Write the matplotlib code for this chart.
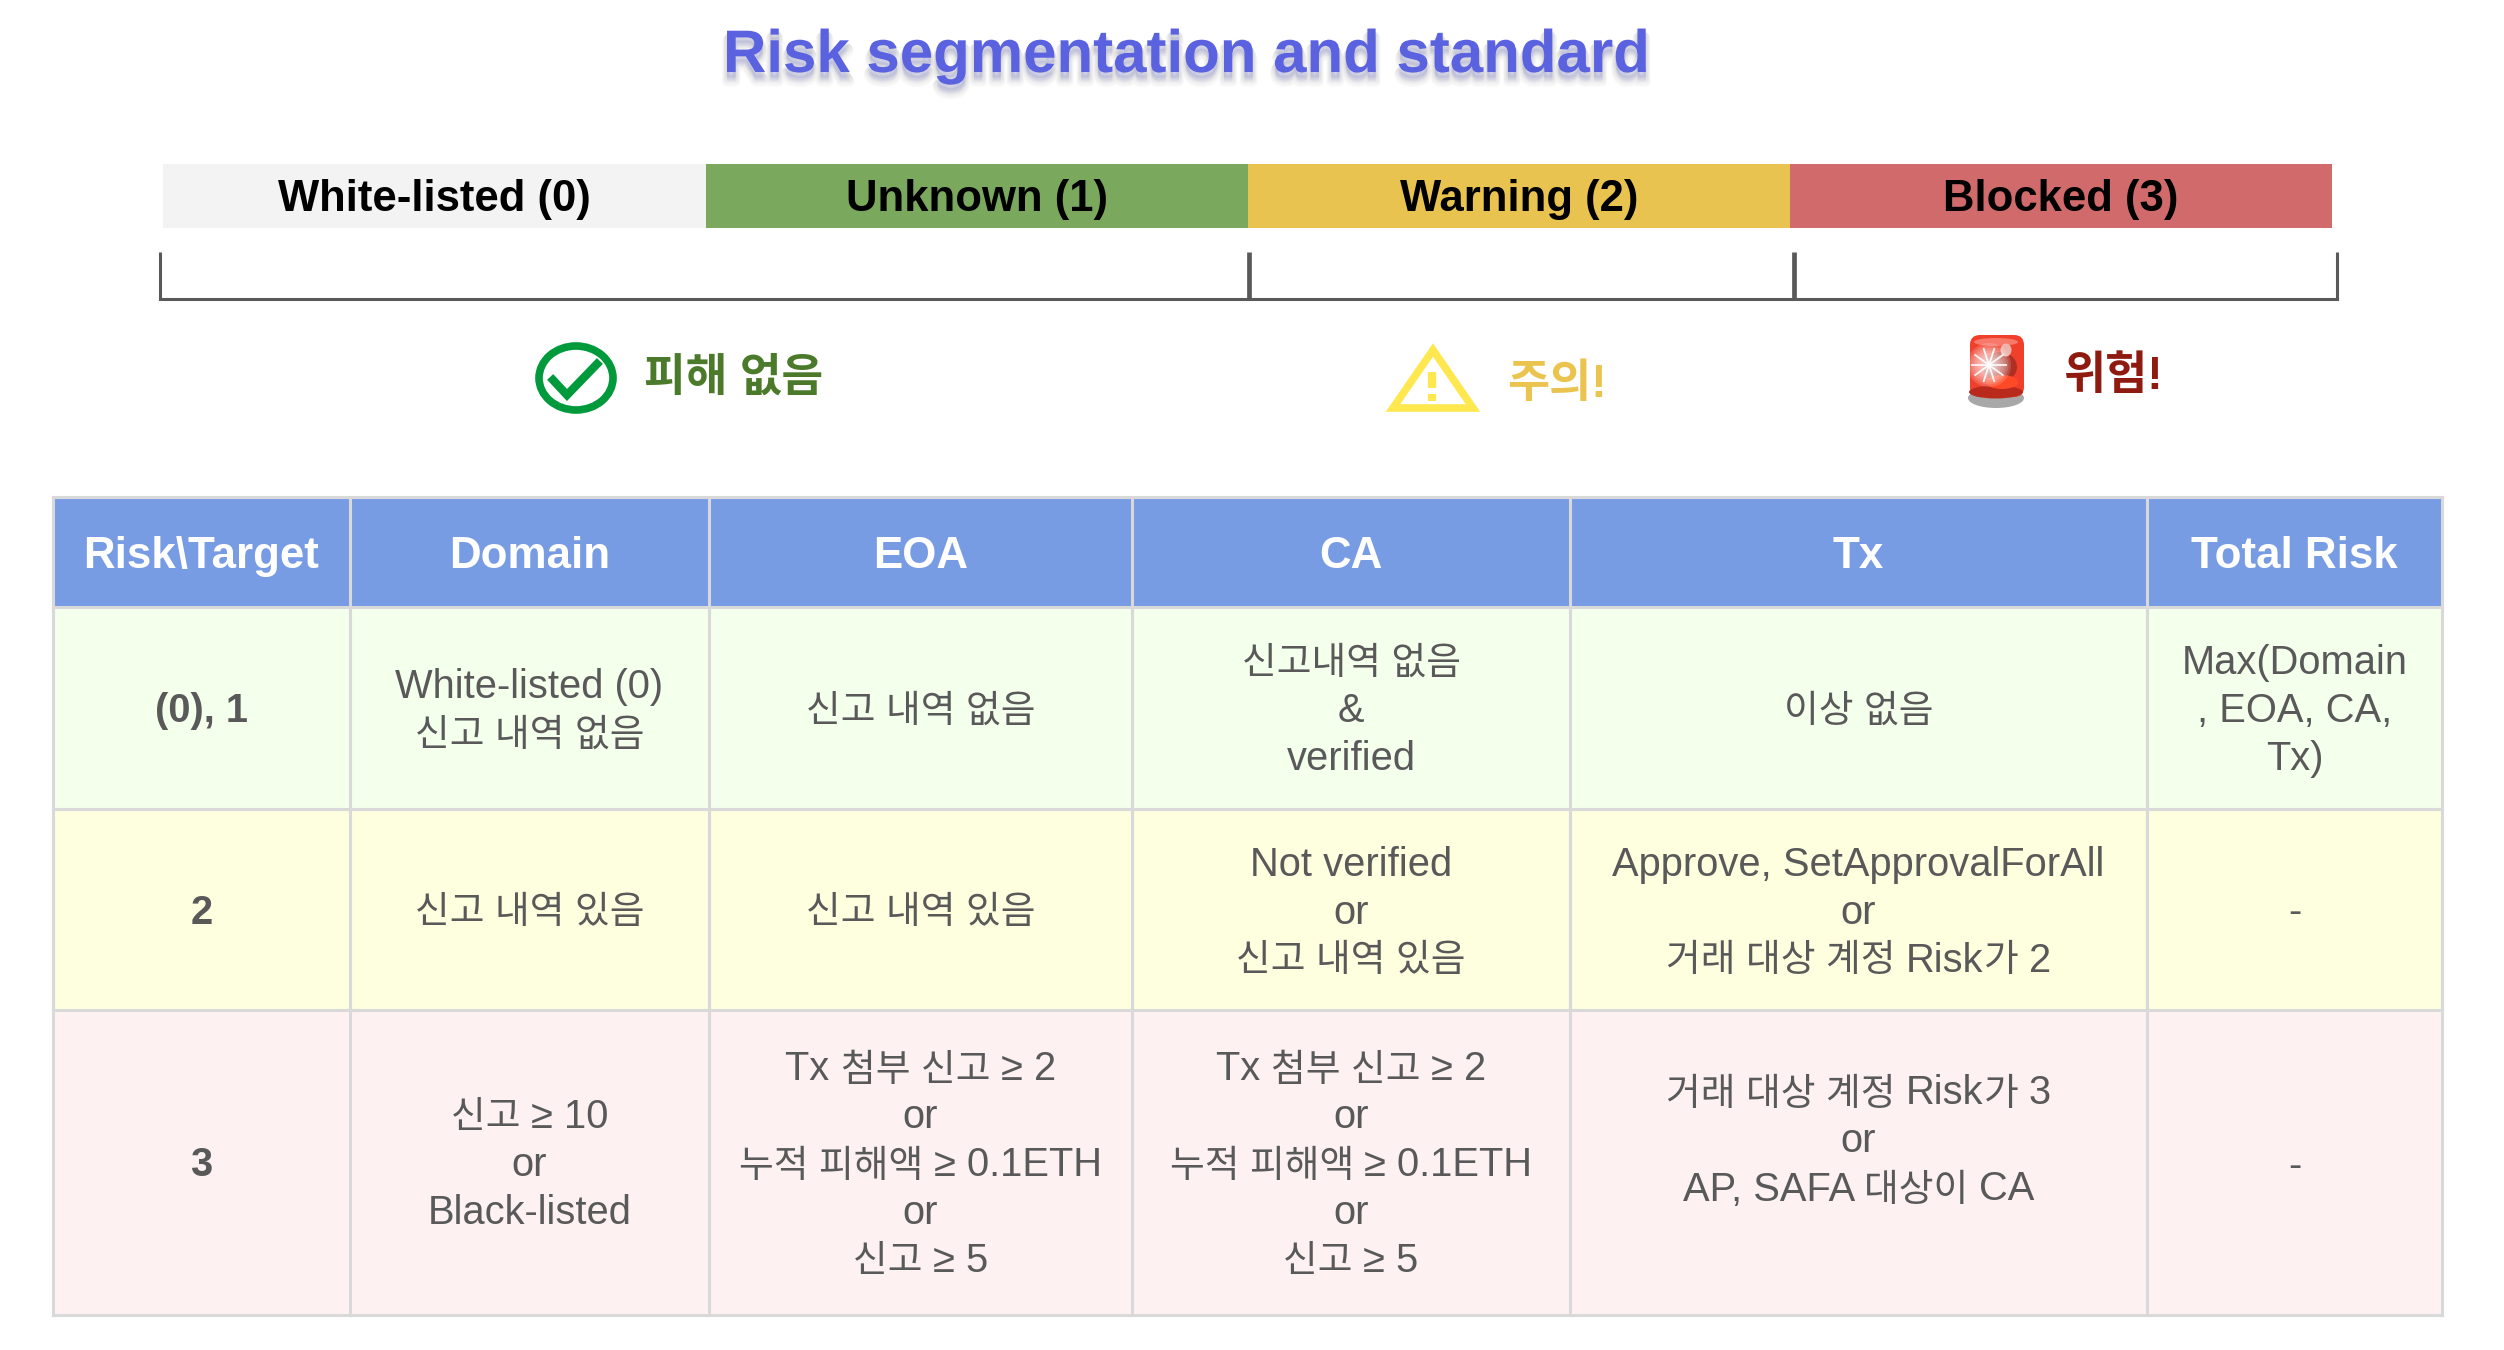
import numpy as np
import matplotlib
matplotlib.use("Agg")
import matplotlib.pyplot as plt
import matplotlib.patheffects as pe
from matplotlib.patches import Rectangle, Ellipse, Polygon, FancyBboxPatch

plt.rcParams["font.family"] = ["Liberation Sans", "Noto Sans CJK KR", "DejaVu Sans"]

# Segments on the top bar
segment_labels = ["White-listed (0)", "Unknown (1)", "Warning (2)", "Blocked (3)"]
segment_colors = ["#f3f3f3", "#7aa85c", "#e9c350", "#d16b6b"]
segment_edges = [163, 706, 1248, 1790, 2332]

# Bracket under the bar
bracket_edges = [160, 1249, 1794, 2337]

# Table content
header_labels = ["Risk\\Target", "Domain", "EOA", "CA", "Tx", "Total Risk"]
row_low = ["(0), 1", "White-listed (0)\n신고 내역 없음", "신고 내역 없음",
           "신고내역 없음\n&\nverified", "이상 없음", "Max(Domain\n, EOA, CA,\nTx)"]
row_mid = ["2", "신고 내역 있음", "신고 내역 있음",
           "Not verified\nor\n신고 내역 있음",
           "Approve, SetApprovalForAll\nor\n거래 대상 계정 Risk가 2", "-"]
row_high = ["3", "신고 ≥ 10\nor\nBlack-listed",
            "Tx 첨부 신고 ≥ 2\nor\n누적 피해액 ≥ 0.1ETH\nor\n신고 ≥ 5",
            "Tx 첨부 신고 ≥ 2\nor\n누적 피해액 ≥ 0.1ETH\nor\n신고 ≥ 5",
            "거래 대상 계정 Risk가 3\nor\nAP, SAFA 대상이 CA\n", "-"]
table_rows = [row_low, row_mid, row_high]
row_colors = ["#f4ffec", "#feffdf", "#fdf1f1"]
header_color = "#789ce4"
grid_color = "#d9d9d9"
text_color = "#595959"

col_edges = [53, 350, 709, 1132, 1570, 2147, 2442]
row_edges = [497, 607, 809, 1010, 1315]
line_step = 48
latin_size = 28.7
hangul_size = 27.2

fig = plt.figure(figsize=(25.04, 13.5), dpi=100)
ax = fig.add_axes([0, 0, 1, 1])
ax.set_xlim(0, 2504)
ax.set_ylim(1350, 0)
ax.axis("off")
renderer = fig.canvas.get_renderer()


def is_hangul(ch):
    return "\uac00" <= ch <= "\ud7a3"


def split_runs(line):
    """Cut a line into Hangul and non-Hangul pieces, spaces stay with what precedes."""
    runs = []
    for ch in line:
        kind = is_hangul(ch) if ch != " " or not runs else runs[-1][0]
        if runs and runs[-1][0] == kind:
            runs[-1][1] += ch
        else:
            runs.append([kind, ch])
    return runs


def text_width(s, size, weight):
    # bars on both sides so that spaces at the ends count too
    t = ax.text(0, 0, "|" + s + "|", fontsize=size, fontweight=weight)
    w = t.get_window_extent(renderer).width
    t.set_text("||")
    w -= t.get_window_extent(renderer).width
    t.remove()
    return w


def draw_line(xc, y, line, weight):
    runs = split_runs(line)
    sizes = [hangul_size if hangul else latin_size for hangul, _ in runs]
    widths = [text_width(s, size, weight) for (_, s), size in zip(runs, sizes)]
    x = xc - sum(widths) / 2
    for (_, s), size, w in zip(runs, sizes, widths):
        ax.text(x, y, s, fontsize=size, fontweight=weight, color=text_color, ha="left", va="baseline")
        x += w


# Title with a soft drop shadow
shadow = [pe.Stroke(linewidth=2 + k * 1.2, foreground="#777777", alpha=0.05, offset=(0, -3 - k))
          for k in range(5)]
ax.text(1187, 72, "Risk segmentation and standard", fontsize=43.2, fontweight="bold",
        color="#5a62e0", ha="center", va="baseline",
        path_effects=shadow + [pe.Normal()])

# Segment bar
for i, label in enumerate(segment_labels):
    left, right = segment_edges[i], segment_edges[i + 1]
    ax.add_patch(Rectangle((left, 164), right - left, 64, facecolor=segment_colors[i], edgecolor="none"))
    ax.text((left + right) / 2, 211, label, fontsize=31.4, fontweight="bold",
            color="black", ha="center", va="baseline")

# Bracket
ax.plot([bracket_edges[0], bracket_edges[-1]], [299, 299], color="#595959", lw=2.2)
for i, x in enumerate(bracket_edges):
    lw = 3.4 if i in (1, 2) else 2.2
    ax.plot([x, x], [252, 299], color="#595959", lw=lw, solid_capstyle="butt")

# Check icon
ax.add_patch(Ellipse((576, 378), 74, 64, facecolor="none", edgecolor="#009a3c", lw=5.5))
ax.plot([553, 567, 597], [380, 395, 364], color="#009a3c", lw=6, solid_joinstyle="miter")
ax.text(644, 391, "피해 없음", fontsize=32.6, fontweight="bold", color="#4a7a2a", ha="left", va="baseline")

# Warning icon
ax.add_patch(Polygon([(1433, 350), (1393, 408), (1473, 408)], closed=True, facecolor="none",
                     edgecolor="#ffe84f", lw=5.5, joinstyle="miter"))
ax.plot([1432, 1432], [372, 388], color="#ffe84f", lw=6, solid_capstyle="butt")
ax.plot([1432, 1432], [394, 401], color="#ffe84f", lw=6, solid_capstyle="butt")
ax.text(1507, 397, "주의!", fontsize=33, fontweight="bold", color="#ebc450", ha="left", va="baseline")

# Siren icon
ax.add_patch(Ellipse((1996, 398), 56, 20, facecolor="#a8a8a8", edgecolor="none", zorder=2))
ax.add_patch(FancyBboxPatch((1976, 341), 42, 50, boxstyle="round,pad=6,rounding_size=10",
                            facecolor="#f0402c", edgecolor="none", zorder=3))
ax.add_patch(Ellipse((1996, 392), 54, 13, facecolor="#b92a1c", edgecolor="none", zorder=4))
ax.add_patch(Ellipse((1996, 342), 44, 8, facecolor="#f8786a", edgecolor="none", zorder=4))
ax.add_patch(Ellipse((2000, 367), 34, 30, facecolor="#9a2a20", edgecolor="none", alpha=0.75, zorder=4))
ax.add_patch(Ellipse((2006, 350), 11, 13, facecolor="#eeb4ac", edgecolor="none", zorder=5))
ax.add_patch(Ellipse((2002, 382), 32, 14, facecolor="#ff4a28", edgecolor="none", zorder=5))
for k in range(8):
    ax.add_patch(Ellipse((1989, 365), 44 - 5 * k, 44 - 5 * k, facecolor="white", edgecolor="none",
                         alpha=0.16, zorder=6))
for angle in np.arange(0, 180, 36):
    dx, dy = 17 * np.cos(np.radians(angle)), 17 * np.sin(np.radians(angle))
    ax.plot([1989 - dx, 1989 + dx], [365 - dy, 365 + dy], color="white", lw=1.3, alpha=0.9, zorder=7)
ax.text(2064, 389, "위험!", fontsize=33, fontweight="bold", color="#8f1a10", ha="left", va="baseline")

# Table fills
top, head_bottom = row_edges[0], row_edges[1]
ax.add_patch(Rectangle((col_edges[0], top), col_edges[-1] - col_edges[0], head_bottom - top,
                       facecolor=header_color, edgecolor="none"))
for r, color in enumerate(row_colors):
    ax.add_patch(Rectangle((col_edges[0], row_edges[r + 1]), col_edges[-1] - col_edges[0],
                           row_edges[r + 2] - row_edges[r + 1], facecolor=color, edgecolor="none"))

# Table grid
for x in col_edges:
    ax.plot([x, x], [row_edges[0], row_edges[-1]], color=grid_color, lw=2.2, solid_capstyle="projecting")
for y in row_edges:
    ax.plot([col_edges[0], col_edges[-1]], [y, y], color=grid_color, lw=2.2, solid_capstyle="projecting")

# Table text
for c, label in enumerate(header_labels):
    ax.text((col_edges[c] + col_edges[c + 1]) / 2, 568, label, fontsize=31.6, fontweight="bold",
            color="white", ha="center", va="baseline")

for r, cells in enumerate(table_rows):
    center = (row_edges[r + 1] + row_edges[r + 2]) / 2
    for c, cell in enumerate(cells):
        lines = cell.split("\n")
        x = (col_edges[c] + col_edges[c + 1]) / 2
        for i, line in enumerate(lines):
            if line:
                y = center + (i - (len(lines) - 1) / 2) * line_step + 14
                draw_line(x, y, line, "bold" if c == 0 else "normal")

fig.savefig("out.png", dpi=100, facecolor="white")
